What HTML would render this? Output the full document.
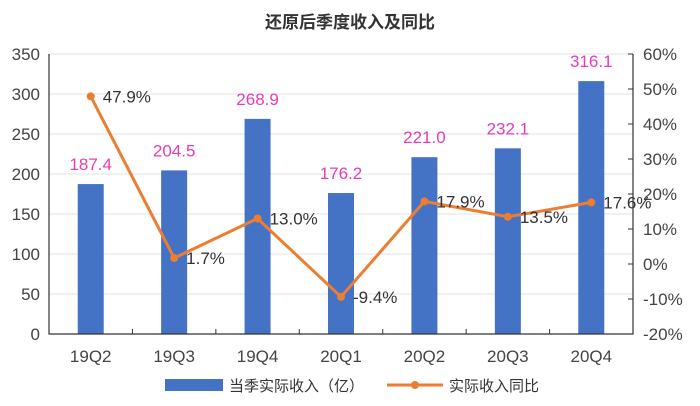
<!DOCTYPE html>
<html><head><meta charset="utf-8"><style>
body{margin:0;background:#fff;}
svg{display:block;font-family:"Liberation Sans","Noto Sans CJK SC",sans-serif;}
</style></head><body>
<svg id="c" width="700" height="406">
<text x="350" y="28" text-anchor="middle" font-size="17" font-weight="bold" fill="#333">还原后季度收入及同比</text>
</svg>
<script>
const categories=["19Q2","19Q3","19Q4","20Q1","20Q2","20Q3","20Q4"];
const revenue=[187.4,204.5,268.9,176.2,221.0,232.1,316.1];
const yoy=[47.9,1.7,13.0,-9.4,17.9,13.5,17.6];
const leftTicks=[0,50,100,150,200,250,300,350];
const rightTicks=[-20,-10,0,10,20,30,40,50,60];
const svg=document.getElementById('c');
const NS="http://www.w3.org/2000/svg";
const L=49,R=633,T=54,B=334;
const bw=(R-L)/categories.length;
const xc=i=>L+bw*(i+0.5);
const yl=v=>B-(v-0)/(350-0)*(B-T);
const yr=v=>B-(v+20)/(80)*(B-T);
function mk(tag,attrs,parent){const e=document.createElementNS(NS,tag);for(const k in attrs)e.setAttribute(k,attrs[k]);(parent||svg).appendChild(e);return e;}
leftTicks.forEach(t=>{
  if(t>0){const g=mk('line',{x1:L,x2:R,y1:yl(t),y2:yl(t),stroke:'#e3e3e3','stroke-width':1});
  
  }
  const tx=mk('text',{x:40,y:yl(t)+6,'text-anchor':'end','font-size':17,fill:'#444'});tx.textContent=t;
  
  
});
rightTicks.forEach(t=>{
  const tk=mk('line',{x1:R-5,x2:R,y1:yr(t),y2:yr(t),stroke:'#333'});
  
  
  const tx=mk('text',{x:643,y:yr(t)+6,'font-size':17,fill:'#444'});tx.textContent=t+'%';
  
  
});
categories.forEach((c,i)=>{
  const b=mk('rect',{x:xc(i)-13,y:yl(revenue[i]),width:26,height:B-yl(revenue[i]),fill:'#4472c4'});
  
  
  const v=mk('text',{x:xc(i),y:yl(revenue[i])-14,'text-anchor':'middle','font-size':17,fill:'#e63cb4'});v.textContent=revenue[i].toFixed(1);
  
  
  const cl=mk('text',{x:xc(i),y:362,'text-anchor':'middle','font-size':17,fill:'#444'});cl.textContent=c;
  
  
  if(i>0){const tk=mk('line',{x1:L+bw*i,x2:L+bw*i,y1:B-5,y2:B,stroke:'#333'});
  
  }
});
const axes=mk('path',{d:`M${L},${T}V${B}H${R}V${T}`,fill:'none',stroke:'#333','stroke-width':1.2});


const line=mk('polyline',{points:yoy.map((v,i)=>xc(i)+','+yr(v)).join(' '),fill:'none',stroke:'#ed7d31','stroke-width':3});


yoy.forEach((v,i)=>{
  const p=mk('circle',{cx:xc(i),cy:yr(v),r:4,fill:'#ed7d31'});
  
  
  const t=mk('text',{x:xc(i)+12,y:yr(v)+6,'font-size':17,fill:'#333'});t.textContent=v.toFixed(1)+'%';
  
  
});
</script>
<svg width="700" height="0"></svg>
<script>
(function(){
const svg=document.getElementById('c');const NS="http://www.w3.org/2000/svg";
function mk(tag,a){const e=document.createElementNS(NS,tag);for(const k in a)e.setAttribute(k,a[k]);svg.appendChild(e);return e;}
const r=mk('rect',{x:165,y:379,width:58,height:12,fill:'#4472c4'});


const t1=mk('text',{x:229,y:391,'font-size':15,fill:'#333'});t1.textContent='当季实际收入（亿）';


const l=mk('line',{x1:387,x2:443,y1:385,y2:385,stroke:'#ed7d31','stroke-width':3});


const c=mk('circle',{cx:415,cy:385,r:4,fill:'#ed7d31'});


const t2=mk('text',{x:449,y:391,'font-size':15,fill:'#333'});t2.textContent='实际收入同比';


})();
</script>
</body></html>
